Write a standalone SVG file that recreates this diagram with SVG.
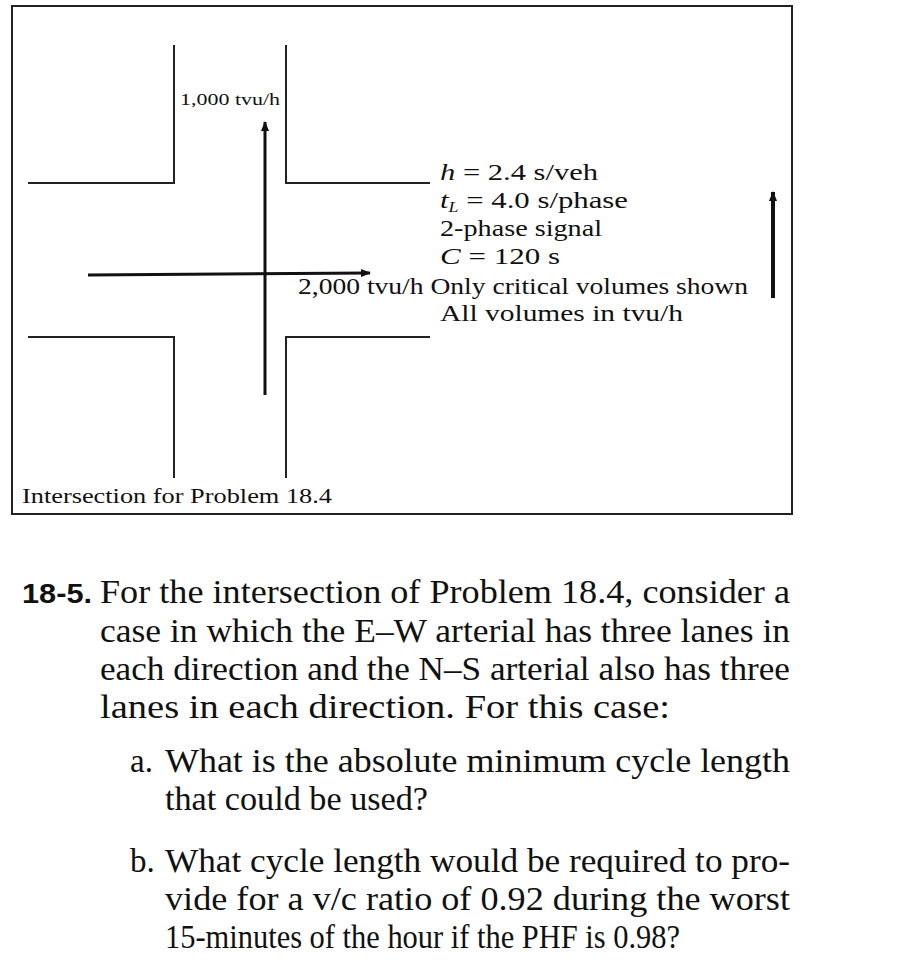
<svg xmlns="http://www.w3.org/2000/svg" width="910" height="978" viewBox="0 0 910 978">
<style>
.r{stroke:#222;stroke-width:2;fill:none}
.s{font-family:"Liberation Serif",serif;fill:#111}
.b{font-family:"Liberation Serif",serif;font-size:33px;fill:#111}
</style>
<defs><marker id="a" markerWidth="10" markerHeight="8" refX="9" refY="4" orient="auto" markerUnits="userSpaceOnUse"><path d="M0,0L10,4L0,8z" fill="#111"/></marker></defs>
<rect width="910" height="978" fill="#fff"/>
<rect x="12" y="6" width="780" height="508" class="r"/>
<g id="roads">
<path class="r" d="M174,45V183H28M286,45V183H430M174,478V337H28M286,478V337H430"/>
</g>
<g id="connectors">
<line x1="265" y1="395" x2="265" y2="122" stroke="#111" stroke-width="3" marker-end="url(#a)"/>
<line x1="88" y1="275" x2="370" y2="273" stroke="#111" stroke-width="3" marker-end="url(#a)"/>
<line x1="773" y1="298" x2="773" y2="192" stroke="#111" stroke-width="4" marker-end="url(#a)"/>
</g>
<text class="s" x="180" y="105" font-size="16" textLength="100" lengthAdjust="spacingAndGlyphs">1,000 tvu/h</text>
<g class="s" font-size="24">
<text x="440" y="180" textLength="158" lengthAdjust="spacingAndGlyphs"><tspan font-style="italic">h</tspan> = 2.4 s/veh</text>
<text x="440" y="208" textLength="188" lengthAdjust="spacingAndGlyphs"><tspan font-style="italic">t<tspan font-size="14" dy="4">L</tspan></tspan><tspan dy="-4"> = 4.0 s/phase</tspan></text>
<text x="440" y="236" textLength="162" lengthAdjust="spacingAndGlyphs">2-phase signal</text>
<text x="440" y="264" textLength="120" lengthAdjust="spacingAndGlyphs"><tspan font-style="italic">C</tspan> = 120 s</text>
<text x="298" y="294" textLength="450" lengthAdjust="spacingAndGlyphs">2,000 tvu/h Only critical volumes shown</text>
<text x="440" y="321" textLength="243" lengthAdjust="spacingAndGlyphs">All volumes in tvu/h</text>
<text x="22" y="503" font-size="22" textLength="310" lengthAdjust="spacingAndGlyphs">Intersection for Problem 18.4</text>
</g>
<text x="22" y="603" font-family="Liberation Sans,sans-serif" font-weight="bold" font-size="28" fill="#111" textLength="70" lengthAdjust="spacingAndGlyphs">18-5.</text>
<g class="b">
<text x="100" y="603" textLength="690" lengthAdjust="spacingAndGlyphs">For the intersection of Problem 18.4, consider a</text>
<text x="100" y="642" textLength="690" lengthAdjust="spacingAndGlyphs">case in which the E–W arterial has three lanes in</text>
<text x="100" y="680" textLength="690" lengthAdjust="spacingAndGlyphs">each direction and the N–S arterial also has three</text>
<text x="100" y="718" textLength="570" lengthAdjust="spacingAndGlyphs">lanes in each direction. For this case:</text>
<text x="130" y="772">a.</text>
<text x="165" y="772" textLength="625" lengthAdjust="spacingAndGlyphs">What is the absolute minimum cycle length</text>
<text x="165" y="810" textLength="263" lengthAdjust="spacingAndGlyphs">that could be used?</text>
<text x="130" y="872">b.</text>
<text x="165" y="872" textLength="625" lengthAdjust="spacingAndGlyphs">What cycle length would be required to pro-</text>
<text x="165" y="910" textLength="625" lengthAdjust="spacingAndGlyphs">vide for a v/c ratio of 0.92 during the worst</text>
<text x="165" y="948" textLength="515" lengthAdjust="spacingAndGlyphs">15-minutes of the hour if the PHF is 0.98?</text>
</g>
</svg>
